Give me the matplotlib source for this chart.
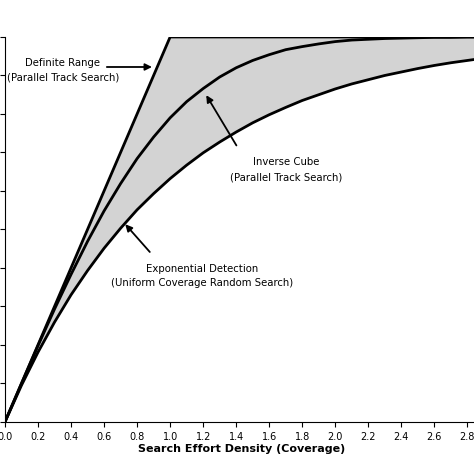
import matplotlib
matplotlib.use("Agg")
import matplotlib.pyplot as plt
import numpy as np

x_vals = [0,0.1,0.2,0.3,0.4,0.5,0.6,0.7,0.8,0.9,1.0,1.1,1.2,1.3,1.4,1.5,1.6,1.7,1.8,1.9,2.0,2.1,2.2,2.3,2.4,2.5,2.6,2.7,2.8,2.9]
definite = [0,0.1,0.2,0.3,0.4,0.5,0.6,0.7,0.8,0.9,1.0] + [1]*19
inverse_cube = [0,0.0997,0.198,0.293,0.383,0.469,0.548,0.619,0.684,0.740,0.790,0.832,0.866,0.896,0.920,0.939,0.954,0.967,0.975,0.982,0.988,0.992,0.994,0.996,0.997,0.998,0.999,0.999,1.0,1.0]
exponential = [0,0.095,0.181,0.259,0.330,0.393,0.451,0.503,0.551,0.593,0.632,0.667,0.699,0.727,0.753,0.777,0.798,0.817,0.835,0.850,0.865,0.878,0.889,0.900,0.909,0.918,0.926,0.933,0.939,0.945]

fig = plt.figure(figsize=(4.74,4.74), dpi=100)
ax = fig.add_axes([0.0105, 0.11, 1.0, 0.812])
ax.fill_between(x_vals, exponential, definite, color="#d3d3d3", lw=0)
for s in (definite, inverse_cube, exponential):
    ax.plot(x_vals, s, color="black", lw=2, solid_joinstyle="round")
ax.set_xlim(0, 2.87)
ax.set_ylim(0, 1)
ax.set_xticks(np.arange(0, 2.81, 0.2))
ax.set_xticklabels([f"{v:.1f}" for v in np.arange(0, 2.81, 0.2)], fontsize=7)
ax.set_yticks(np.arange(0, 1.01, 0.1))
ax.set_yticklabels([])
ax.spines["top"].set_visible(False)
ax.spines["right"].set_visible(False)
ax.set_xlabel("Search Effort Density (Coverage)", fontsize=8, fontweight="bold", labelpad=2)

ap = dict(arrowstyle="-|>", color="black", lw=1.3, mutation_scale=10)
ax.annotate("", xy=(0.907, 0.922), xytext=(0.60, 0.922), arrowprops=ap)
ax.text(0.35, 0.914, "Definite Range\n(Parallel Track Search)", fontsize=7.3, ha="center", va="center", linespacing=1.6)
ax.annotate("", xy=(1.21, 0.855), xytext=(1.41, 0.712), arrowprops=ap)
ax.text(1.70, 0.655, "Inverse Cube\n(Parallel Track Search)", fontsize=7.3, ha="center", va="center", linespacing=1.6)
ax.annotate("", xy=(0.717, 0.519), xytext=(0.888, 0.436), arrowprops=ap)
ax.text(1.195, 0.379, "Exponential Detection\n(Uniform Coverage Random Search)", fontsize=7.3, ha="center", va="center", linespacing=1.6)
fig.savefig("out.png", dpi=100)
